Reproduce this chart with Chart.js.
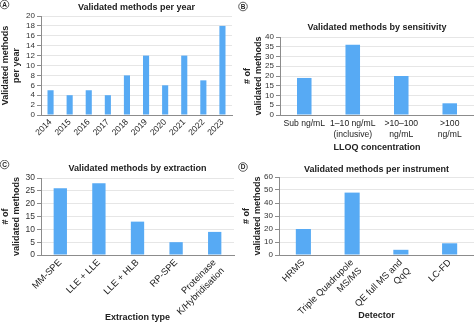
<!DOCTYPE html>
<html>
<head>
<meta charset="utf-8">
<script src="https://cdn.jsdelivr.net/npm/chart.js@4.4.1/dist/chart.umd.min.js"></script>
<style>
    html, body { margin: 0; padding: 0; background: #fff; }
    body { width: 474px; height: 325px; position: relative; overflow: hidden; }
    canvas { position: absolute; }
</style>
</head>
<body>
<canvas id="chart-a" width="237" height="160" style="left:0;top:0"></canvas>
<canvas id="chart-b" width="237" height="160" style="left:237px;top:0"></canvas>
<canvas id="chart-c" width="237" height="165" style="left:0;top:160px"></canvas>
<canvas id="chart-d" width="237" height="165" style="left:237px;top:160px"></canvas>
<script>
// Panel data
const yearLabels = ['2014', '2015', '2016', '2017', '2018', '2019', '2020', '2021', '2022', '2023'];
const yearCounts = [5, 4, 5, 4, 8, 12, 6, 12, 7, 18];

const lloqLabels = [['Sub ng/mL'], ['1\u201310 ng/mL', '(inclusive)'], ['>10\u2013100', 'ng/mL'], ['>100', 'ng/mL']];
const lloqCounts = [19, 36, 20, 6];

const extractionLabels = ['MM-SPE', 'LLE + LLE', 'LLE + HLB', 'RP-SPE', ['Proteinase', 'K/Hybridisation']];
const extractionCounts = [26, 28, 13, 5, 9];

const detectorLabels = ['HRMS', ['Triple Quadrupole', 'MS/MS'], ['QE full MS and', 'QqQ'], 'LC-FD'];
const detectorCounts = [20, 48, 4, 9];

// y axis ranges: [max, step]
const yearAxis = [20, 2];
const lloqAxis = [40, 5];
const extractionAxis = [30, 5];
const detectorAxis = [60, 10];

const FONT = "'Liberation Sans', Arial, sans-serif";
const BAR_COLOR = '#57aaf4';
const GRID_COLOR = '#e6e6e6';
const AXIS_COLOR = '#8c8c8c';
const TEXT_COLOR = '#222';

/**
 * Draws panel title (centered over the plot) and the circled panel letter
 */
const panelDecor = {
    id: 'panelDecor',
    afterDraw(chart, args, opts) {
        const ctx = chart.ctx;
        const area = chart.chartArea;
        ctx.save();
        ctx.fillStyle = TEXT_COLOR;
        ctx.font = `bold 9px ${FONT}`;
        ctx.textAlign = 'center';
        ctx.textBaseline = 'middle';
        ctx.fillText(opts.title, (area.left + area.right) / 2, opts.titleY);

        // circled letter
        ctx.beginPath();
        ctx.arc(opts.letterX, opts.letterY, 4.3, 0, Math.PI * 2);
        ctx.strokeStyle = '#333';
        ctx.lineWidth = 0.8;
        ctx.stroke();
        ctx.font = `bold 6.5px ${FONT}`;
        ctx.fillText(opts.letter, opts.letterX, opts.letterY + 0.5);
        ctx.restore();
    }
};

/**
 * Build one bar panel
 */
function makePanel(id, p) {
    const ctx = document.getElementById(id).getContext('2d');
    const canvasH = ctx.canvas.height;

    return new Chart(ctx, {
        type: 'bar',
        data: {
            labels: p.labels,
            datasets: [{
                data: p.values,
                backgroundColor: BAR_COLOR,
                borderWidth: 0,
                categoryPercentage: 1,
                barPercentage: p.barPct
            }]
        },
        options: {
            responsive: false,
            animation: false,
            layout: {
                padding: { top: p.top, right: p.right, left: 0, bottom: 0 }
            },
            plugins: {
                legend: { display: false },
                tooltip: { enabled: false },
                panelDecor: {
                    title: p.title,
                    titleY: p.titleY,
                    letter: p.letter,
                    letterX: p.letterX,
                    letterY: p.letterY
                }
            },
            scales: {
                x: {
                    grid: { display: false, drawTicks: false },
                    border: { display: true, color: AXIS_COLOR, width: 1 },
                    ticks: {
                        color: TEXT_COLOR,
                        font: { family: FONT, size: p.xFont, lineHeight: 1.25 },
                        padding: p.xPad,
                        autoSkip: false,
                        minRotation: p.rotate,
                        maxRotation: p.rotate
                    },
                    title: {
                        display: !!p.xTitle,
                        text: p.xTitle,
                        color: TEXT_COLOR,
                        font: { family: FONT, size: 9, weight: 'bold', lineHeight: 1.2 },
                        padding: { top: 0, bottom: p.xTitlePad }
                    },
                    afterFit: (axis) => { axis.height = canvasH - p.bottom; }
                },
                y: {
                    min: 0,
                    max: p.axis[0],
                    grid: {
                        color: GRID_COLOR,
                        tickColor: AXIS_COLOR,
                        tickLength: 4,
                        lineWidth: 1
                    },
                    border: { display: true, color: AXIS_COLOR, width: 1 },
                    ticks: {
                        stepSize: p.axis[1],
                        autoSkip: false,
                        color: '#333',
                        font: { family: FONT, size: p.yFont },
                        padding: 2
                    },
                    title: {
                        display: true,
                        text: p.yTitle,
                        color: TEXT_COLOR,
                        font: { family: FONT, size: 9, weight: 'bold', lineHeight: 1.2 },
                        padding: { top: p.yTitlePad, bottom: 0 }
                    },
                    afterFit: (axis) => { axis.width = p.left; }
                }
            }
        },
        plugins: [panelDecor]
    });
}

makePanel('chart-a', {
    labels: yearLabels, values: yearCounts, axis: yearAxis,
    title: 'Validated methods per year', titleY: 8, letter: 'A', letterX: 4.5, letterY: 4.5,
    yTitle: ['Validated methods', 'per year'], yTitlePad: 0,
    left: 41, right: 5, top: 16, bottom: 115,
    barPct: 0.32, xFont: 8.5, yFont: 8, xPad: 2, rotate: 45
});

makePanel('chart-b', {
    labels: lloqLabels, values: lloqCounts, axis: lloqAxis,
    title: 'Validated methods by sensitivity', titleY: 28, letter: 'B', letterX: 6, letterY: 6.5,
    yTitle: ['# of', 'validated methods'], yTitlePad: 5,
    xTitle: 'LLOQ concentration', xTitlePad: 7,
    left: 43, right: 0, top: 37, bottom: 115,
    barPct: 0.3, xFont: 8.6, yFont: 8, xPad: 3, rotate: 0
});

makePanel('chart-c', {
    labels: extractionLabels, values: extractionCounts, axis: extractionAxis,
    title: 'Validated methods by extraction', titleY: 9, letter: 'C', letterX: 4.5, letterY: 4.5,
    yTitle: ['# of', 'validated methods'], yTitlePad: 0,
    xTitle: 'Extraction type', xTitlePad: 2,
    left: 41, right: 3, top: 18, bottom: 95,
    barPct: 0.345, xFont: 9.3, yFont: 8.5, xPad: 2, rotate: 45
});

makePanel('chart-d', {
    labels: detectorLabels, values: detectorCounts, axis: detectorAxis,
    title: 'Validated methods per instrument', titleY: 10, letter: 'D', letterX: 6, letterY: 7,
    yTitle: ['# of', 'validated methods'], yTitlePad: 4,
    xTitle: 'Detector', xTitlePad: 4,
    left: 42, right: 0, top: 17, bottom: 95,
    barPct: 0.31, xFont: 9.3, yFont: 8, xPad: 2, rotate: 45
});
</script>
</body>
</html>
